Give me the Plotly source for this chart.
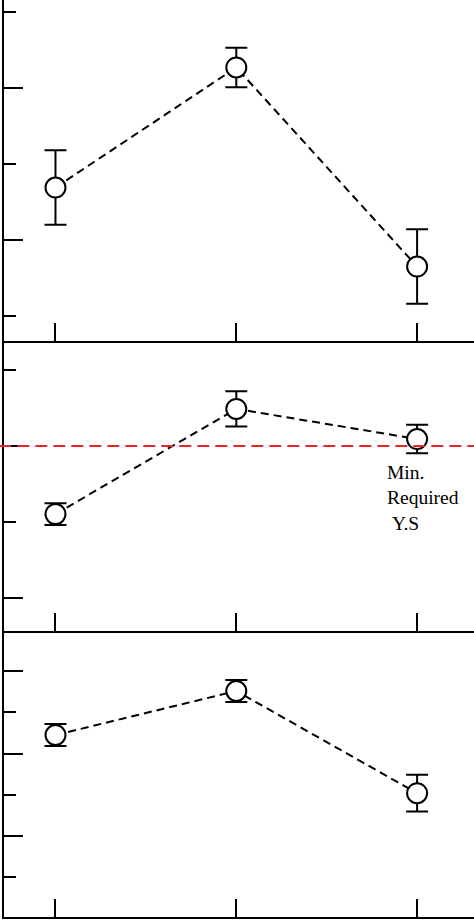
import plotly.graph_objects as go
from plotly.subplots import make_subplots

# ---- data ----
samples = ["S1", "S2", "S3"]

panel1_mean = [26.69, 28.27, 25.65]
panel1_err = [0.49, 0.26, 0.49]

panel2_mean = [327.6, 362.2, 352.3]
panel2_err = [3.6, 5.8, 4.7]
min_required_ys = 350

panel3_mean = [52.26, 57.6, 45.2]
panel3_err = [1.33, 1.33, 2.22]

annotation_text = "Min.<br>Required<br>\u00a0Y.S"

fig = make_subplots(rows=3, cols=1, shared_xaxes=False, vertical_spacing=0)

series = [(panel1_mean, panel1_err), (panel2_mean, panel2_err), (panel3_mean, panel3_err)]
for i, (m, e) in enumerate(series, start=1):
    fig.add_trace(
        go.Scatter(
            x=samples, y=m, mode="lines+markers",
            line=dict(color="black", width=2, dash="8px,5px"),
            marker=dict(symbol="circle", size=20, color="white",
                        line=dict(color="black", width=2)),
            error_y=dict(type="data", array=e, visible=True,
                         color="black", thickness=2, width=11),
            showlegend=False,
        ),
        row=i, col=1,
    )

# domains (fractions of plot height)
domains = [[0.62759, 1.0], [0.31243, 0.62541], [0.0, 0.31025]]
yranges = [[24.664, 29.158], [289.31, 383.72], [30.17, 64.70]]
ymajor = [2, 50, 10]
yminor = [1, 25, 5]

xr = [-0.2848, 2.3147]
for i in range(3):
    n = "" if i == 0 else str(i + 1)
    fig.layout["xaxis" + n].update(
        domain=[0, 1], range=xr, type="category",
        showline=True, linewidth=2, linecolor="black",
        mirror=(i > 0), ticks="inside", ticklen=18, tickwidth=2,
        tickcolor="black", showticklabels=False, showgrid=False, zeroline=False,
    )
    fig.layout["yaxis" + n].update(
        domain=domains[i], range=yranges[i],
        showline=True, linewidth=2, linecolor="black", mirror=False,
        ticks="inside", ticklen=19, tickwidth=2, tickcolor="black",
        tick0=0, dtick=ymajor[i], showticklabels=False,
        showgrid=False, zeroline=False,
        minor=dict(ticks="inside", ticklen=12, tickwidth=2, tickcolor="black",
                   tick0=0, dtick=yminor[i], showgrid=False),
    )

# minimum required yield strength line
fig.add_shape(
    type="line", xref="x2 domain", yref="y2",
    x0=-0.01, x1=1, y0=min_required_ys, y1=min_required_ys,
    line=dict(color="#e8262a", width=2, dash="12px,6px"),
)

fig.add_annotation(
    x=samples[2], y=min_required_ys, xref="x2", yref="y2",
    text=annotation_text, showarrow=False, align="left",
    xanchor="left", yanchor="top", xshift=-32, yshift=-14,
    font=dict(family="Liberation Serif, Times New Roman, serif", size=19.5, color="black"),
)

fig.update_layout(
    width=474, height=920,
    margin=dict(l=4, r=0, t=0, b=3),
    paper_bgcolor="white", plot_bgcolor="white",
)

fig.write_html(
    "out.html",
    config={"displayModeBar": False},
    post_script="document.body.style.margin='0px';document.body.style.overflow='hidden';",
)
